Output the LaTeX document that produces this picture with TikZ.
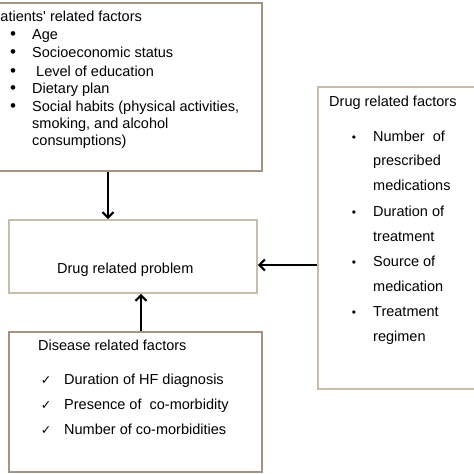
\documentclass[tikz,border=0pt]{standalone}
\usepackage{fontspec}
\setmainfont{Liberation Sans}
\newfontfamily\symfont{DejaVu Sans}
\usetikzlibrary{arrows.meta}
\newcommand{\boxline}{1.6pt}
\definecolor{tanline}{HTML}{C6BDAC}
\definecolor{brownline}{HTML}{A39381}

\tikzset{
  box/.style={draw=tanline, line width=\boxline, fill=white, inner sep=0pt},
  txt/.style={anchor=base west, inner sep=0pt, font=\fontsize{14.5}{17}\selectfont},
  dot/.style={anchor=base, inner sep=0pt, font=\fontsize{17}{17}\selectfont},
  tick/.style={anchor=base, inner sep=0pt, font=\symfont\fontsize{12.5}{12}\selectfont},
  link/.style={-{Straight Barb[length=5.5pt,width=11pt,line width=2.2pt]}, line width=2.2pt}
}

\begin{document}
\begin{tikzpicture}[x=1pt,y=-1pt]
\useasboundingbox (0,0) rectangle (474,474);

        % boxes
        \node (patients) at (123.5,87) [box, draw=brownline, minimum width=277pt, minimum height=168pt] {};
        \node (problem) at (133,256.5) [box, minimum width=248pt, minimum height=73pt] {};
        \node (disease) at (135.5,402) [box, draw=brownline, minimum width=253pt, minimum height=140pt] {};
        \node (drugf) at (400,238) [box, minimum width=164pt, minimum height=302pt] {};

        % patients' related factors
        \node (ptitle) at (0.3,21) [txt] {atients\textquotesingle{} related factors};
        \node (pd1) at (13,39) [dot] {•};
        \node (pd2) at (13,57) [dot] {•};
        \node (pd3) at (13,76) [dot] {•};
        \node (pd4) at (13,93) [dot] {•};
        \node (pd5) at (13,111) [dot] {•};
        \node (p1) at (32,39) [txt] {Age};
        \node (p2) at (32,57) [txt] {Socioeconomic status};
        \node (p3) at (36,76) [txt] {Level of education};
        \node (p4) at (32,93) [txt] {Dietary plan};
        \node (p5) at (32,111) [txt] {Social habits (physical activities,};
        \node (p6) at (32,128) [txt] {smoking, and alcohol};
        \node (p7) at (32,145) [txt] {consumptions)};

        % drug related problem
        \node (ptext) at (57,273) [txt] {Drug related problem};

        % disease related factors
        \node (dtitle) at (38,350) [txt] {Disease related factors};
        \node (dc1) at (46,384) [tick] {✓};
        \node (dc2) at (46,409) [tick] {✓};
        \node (dc3) at (46,434) [tick] {✓};
        \node (d1) at (64,384) [txt] {Duration of HF diagnosis};
        \node (d2) at (64,409) [txt] {Presence of ~co-morbidity};
        \node (d3) at (64,434) [txt] {Number of co-morbidities};

        % drug related factors
        \node (ftitle) at (329,106) [txt] {Drug related factors};
        \node (fd1) at (354,141) [dot, font=\fontsize{12}{12}\selectfont] {•};
        \node (fd2) at (354,216) [dot, font=\fontsize{12}{12}\selectfont] {•};
        \node (fd3) at (354,266) [dot, font=\fontsize{12}{12}\selectfont] {•};
        \node (fd4) at (354,316) [dot, font=\fontsize{12}{12}\selectfont] {•};
        \node (f1) at (373,141) [txt] {Number ~of};
        \node (f2) at (373,165) [txt] {prescribed};
        \node (f3) at (373,190) [txt] {medications};
        \node (f4) at (373,216) [txt] {Duration of};
        \node (f5) at (373,241) [txt] {treatment};
        \node (f6) at (373,266) [txt] {Source of};
        \node (f7) at (373,291) [txt] {medication};
        \node (f8) at (373,316) [txt] {Treatment};
        \node (f9) at (373,341) [txt] {regimen};

        % connectors
        \coordinate (downx) at (108,0);
        \coordinate (upx) at (141,0);
        \coordinate (lefty) at (0,265);
        \draw[link] (patients.south -| downx) to (problem.north -| downx);
        \draw[link] (disease.north -| upx) to (problem.south -| upx);
        \draw[link] (drugf.west |- lefty) to (problem.east |- lefty);

\end{tikzpicture}
\end{document}
